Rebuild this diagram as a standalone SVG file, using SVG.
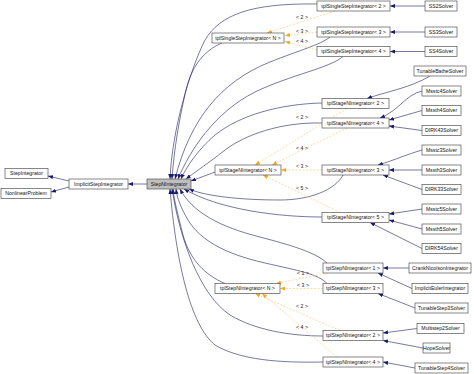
<svg xmlns="http://www.w3.org/2000/svg" width="474" height="374" viewBox="0 0 474 374">
<style>
.n rect{fill:#fff;stroke:#555;stroke-width:0.7}
.n.g rect{fill:#bfbfbf}
.n text{font-family:"Liberation Sans",Arial,sans-serif;font-size:5.2px;fill:#111;text-anchor:middle}
.e path{fill:none;stroke:#1f1f5f;stroke-width:0.6;marker-end:url(#ab)}
.t path{fill:none;stroke:#f3c66a;stroke-width:0.6;stroke-dasharray:2,1.5;marker-end:url(#ao)}
.t text{font-family:"Liberation Sans",Arial,sans-serif;font-size:5.2px;fill:#222;text-anchor:middle}
</style>
<defs>
<marker id="ab" markerUnits="userSpaceOnUse" markerWidth="5" markerHeight="4" refX="5" refY="2" orient="auto"><path d="M0,0L5,2L0,4z" fill="#191970"/></marker>
<marker id="ao" markerUnits="userSpaceOnUse" markerWidth="5" markerHeight="4" refX="5" refY="2" orient="auto"><path d="M0,0L5,2L0,4z" fill="#f5a623"/></marker>
</defs>
<rect width="474" height="374" fill="#fff"/>
<g id="connectors">
<g class="e">
<path d="M69,181L48,176"/>
<path d="M69,187L51,192"/>
<path d="M147,184L128,184"/>
<path d="M317,4C250,3 220,15 205,40C190,70 172,130 170,179"/>
<path d="M222,43C205,50 192,65 186,90C179,120 174,150 172,179"/>
<path d="M330,37C320,45 300,50 270,62C220,82 190,120 175,179"/>
<path d="M343,56.5C330,68 290,75 255,92C215,112 190,150 178,179"/>
<path d="M322,103C280,104 240,115 215,135C200,148 187,165 181,179"/>
<path d="M322,123C280,122 245,135 225,150C210,162 195,172 186,179"/>
<path d="M215,172L191,181"/>
<path d="M343,175C335,190 310,200 280,200C240,200 205,196 189,189"/>
<path d="M322,217C280,217 220,210 184,189"/>
<path d="M327,263C315,252 290,245 260,237C220,227 192,212 180,189"/>
<path d="M327,283.5C318,274 300,271 265,263C225,254 200,240 188,220C181,208 177,198 176,189"/>
<path d="M225,283.5C205,275 190,260 183,235C178,215 174,200 173,189"/>
<path d="M323,336C290,336 255,330 230,315C200,295 180,240 172,189"/>
<path d="M323,362C280,363 240,360 215,345C190,325 176,260 170,189"/>
<path d="M425,6L390,6"/>
<path d="M425,32L390,32"/>
<path d="M425,51.5L390,51.5"/>
<path d="M430,76C410,88 385,92 367,98.5"/>
<path d="M422,91C405,95 400,110 380,118"/>
<path d="M422,110.5L389,120"/>
<path d="M422,130.5L389,126"/>
<path d="M422,150C405,155 395,160 378,165"/>
<path d="M422,170L389,170"/>
<path d="M422,189.5L383,175"/>
<path d="M422,209L389,214"/>
<path d="M422,229L389,220"/>
<path d="M422,248.5L370,222.5"/>
<path d="M409,268L383,268"/>
<path d="M412,288.5L378,273"/>
<path d="M415,308L378,293.5"/>
<path d="M417,328.5L383,333"/>
<path d="M423,348L383,340.5"/>
<path d="M415,368L383,362"/>
</g>
<g class="t">
<path d="M335,11L267,33"/><text x="302" y="19">&lt; 2 &gt;</text>
<path d="M317,32L285,35.5"/><text x="302" y="33">&lt; 3 &gt;</text>
<path d="M317,50L285,41.5"/><text x="302" y="43">&lt; 4 &gt;</text>
<path d="M347,108.5L255,165"/><text x="302" y="119">&lt; 2 &gt;</text>
<path d="M347,128L272,165"/><text x="302" y="150">&lt; 4 &gt;</text>
<path d="M322,170L281,170"/><text x="302" y="168">&lt; 3 &gt;</text>
<path d="M340,212.5L263,175"/><text x="302" y="190">&lt; 5 &gt;</text>
<path d="M328,273L276,283.5"/><text x="303" y="275">&lt; 1 &gt;</text>
<path d="M323,288.5L280,288.5"/><text x="303" y="287">&lt; 3 &gt;</text>
<path d="M340,330.5L255,293.5"/><text x="302" y="308">&lt; 2 &gt;</text>
<path d="M337,357L262,293.5"/><text x="302" y="329">&lt; 4 &gt;</text>
</g>
</g>
<g id="StepIntegrator" class="n"><rect x="5" y="168.5" width="43" height="10"/><text x="26.5" y="175.3">StepIntegrator</text></g>
<g id="NonlinearProblem" class="n"><rect x="1" y="188.5" width="50" height="10"/><text x="26" y="195.3">NonlinearProblem</text></g>
<g id="ImplicitStepIntegrator" class="n"><rect x="69" y="179" width="59" height="10"/><text x="98.5" y="185.8">ImplicitStepIntegrator</text></g>
<g id="StepNIntegrator" class="n g"><rect x="147" y="179" width="44" height="10"/><text x="169" y="185.8">StepNIntegrator</text></g>
<g id="tplSingleStepIntegratorN" class="n"><rect x="212" y="33" width="72" height="10"/><text x="248" y="39.8">tplSingleStepIntegrator&lt; N &gt;</text></g>
<g id="tplSingleStepIntegrator2" class="n"><rect x="317" y="1" width="73" height="10"/><text x="353.5" y="7.8">tplSingleStepIntegrator&lt; 2 &gt;</text></g>
<g id="tplSingleStepIntegrator3" class="n"><rect x="317" y="27" width="73" height="10"/><text x="353.5" y="33.8">tplSingleStepIntegrator&lt; 3 &gt;</text></g>
<g id="tplSingleStepIntegrator4" class="n"><rect x="317" y="46.5" width="73" height="10"/><text x="353.5" y="53.3">tplSingleStepIntegrator&lt; 4 &gt;</text></g>
<g id="SS2Solver" class="n"><rect x="425" y="1" width="32" height="10"/><text x="441" y="7.8">SS2Solver</text></g>
<g id="SS3Solver" class="n"><rect x="425" y="27" width="32" height="10"/><text x="441" y="33.8">SS3Solver</text></g>
<g id="SS4Solver" class="n"><rect x="425" y="46.5" width="32" height="10"/><text x="441" y="53.3">SS4Solver</text></g>
<g id="TunableBatheSolver" class="n"><rect x="414" y="66" width="52" height="10"/><text x="440" y="72.8">TunableBatheSolver</text></g>
<g id="tplStageNIntegrator2" class="n"><rect x="322" y="98.5" width="67" height="10"/><text x="355.5" y="105.3">tplStageNIntegrator&lt; 2 &gt;</text></g>
<g id="Msstc4Solver" class="n"><rect x="422" y="86" width="39" height="10"/><text x="441.5" y="92.8">Msstc4Solver</text></g>
<g id="tplStageNIntegrator4" class="n"><rect x="322" y="118" width="67" height="10"/><text x="355.5" y="124.8">tplStageNIntegrator&lt; 4 &gt;</text></g>
<g id="Mssth4Solver" class="n"><rect x="422" y="105.5" width="39" height="10"/><text x="441.5" y="112.3">Mssth4Solver</text></g>
<g id="DIRK43Solver" class="n"><rect x="422" y="125.5" width="39" height="10"/><text x="441.5" y="132.3">DIRK43Solver</text></g>
<g id="Msstc3Solver" class="n"><rect x="422" y="145" width="39" height="10"/><text x="441.5" y="151.8">Msstc3Solver</text></g>
<g id="tplStageNIntegratorN" class="n"><rect x="215" y="165" width="66" height="10"/><text x="248" y="171.8">tplStageNIntegrator&lt; N &gt;</text></g>
<g id="tplStageNIntegrator3" class="n"><rect x="322" y="165" width="67" height="10"/><text x="355.5" y="171.8">tplStageNIntegrator&lt; 3 &gt;</text></g>
<g id="Mssth3Solver" class="n"><rect x="422" y="165" width="39" height="10"/><text x="441.5" y="171.8">Mssth3Solver</text></g>
<g id="DIRK33Solver" class="n"><rect x="422" y="184.5" width="39" height="10"/><text x="441.5" y="191.3">DIRK33Solver</text></g>
<g id="Msstc5Solver" class="n"><rect x="422" y="204" width="39" height="10"/><text x="441.5" y="210.8">Msstc5Solver</text></g>
<g id="tplStageNIntegrator5" class="n"><rect x="322" y="212.5" width="67" height="10"/><text x="355.5" y="219.3">tplStageNIntegrator&lt; 5 &gt;</text></g>
<g id="Mssth5Solver" class="n"><rect x="422" y="224" width="39" height="10"/><text x="441.5" y="230.8">Mssth5Solver</text></g>
<g id="DIRK54Solver" class="n"><rect x="422" y="243.5" width="39" height="10"/><text x="441.5" y="250.3">DIRK54Solver</text></g>
<g id="tplStepNIntegrator1" class="n"><rect x="323" y="263" width="60" height="10"/><text x="353" y="269.8">tplStepNIntegrator&lt; 1 &gt;</text></g>
<g id="CrankNicolsonIntegrator" class="n"><rect x="409" y="263" width="62" height="10"/><text x="440" y="269.8">CrankNicolsonIntegrator</text></g>
<g id="tplStepNIntegratorN" class="n"><rect x="215" y="283.5" width="65" height="10"/><text x="247.5" y="290.3">tplStepNIntegrator&lt; N &gt;</text></g>
<g id="tplStepNIntegrator3" class="n"><rect x="323" y="283.5" width="60" height="10"/><text x="353" y="290.3">tplStepNIntegrator&lt; 3 &gt;</text></g>
<g id="ImplicitEulerIntegrator" class="n"><rect x="412" y="283.5" width="56" height="10"/><text x="440" y="290.3">ImplicitEulerIntegrator</text></g>
<g id="TunableStep3Solver" class="n"><rect x="415" y="303" width="53" height="10"/><text x="441.5" y="309.8">TunableStep3Solver</text></g>
<g id="Multistep2Solver" class="n"><rect x="417" y="323.5" width="47" height="10"/><text x="440.5" y="330.3">Multistep2Solver</text></g>
<g id="tplStepNIntegrator2" class="n"><rect x="323" y="330.5" width="60" height="10"/><text x="353" y="337.3">tplStepNIntegrator&lt; 2 &gt;</text></g>
<g id="HopeSolver" class="n"><rect x="423" y="343" width="27" height="10"/><text x="436.5" y="349.8">HopeSolver</text></g>
<g id="tplStepNIntegrator4" class="n"><rect x="323" y="357" width="60" height="10"/><text x="353" y="363.8">tplStepNIntegrator&lt; 4 &gt;</text></g>
<g id="TunableStep4Solver" class="n"><rect x="415" y="363" width="53" height="10"/><text x="441.5" y="369.8">TunableStep4Solver</text></g>
</svg>
